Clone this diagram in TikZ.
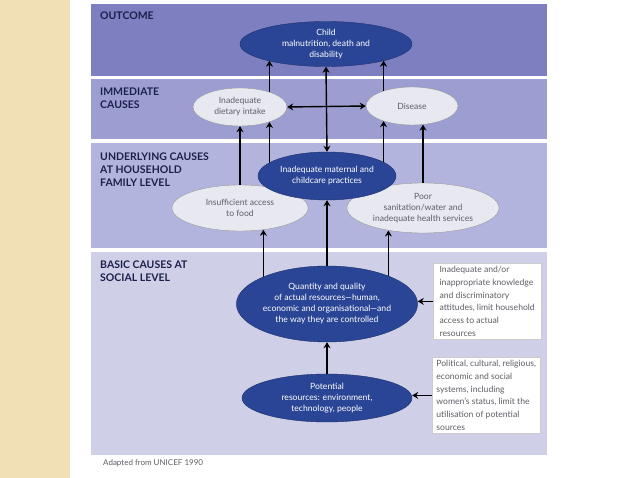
\documentclass[tikz,border=0pt]{standalone}
\usepackage{fontspec}
\setmainfont{Lato}
\usetikzlibrary{shapes.geometric,arrows.meta}
\pgfdeclarelayer{back}\pgfdeclarelayer{bg}\pgfsetlayers{back,bg,main}
\definecolor{beige}{HTML}{F1DFB6}
\definecolor{bandA}{HTML}{7E7FC0}
\definecolor{bandB}{HTML}{9C9ED2}
\definecolor{bandC}{HTML}{B3B4DD}
\definecolor{bandD}{HTML}{CFD0E7}
\definecolor{darkell}{HTML}{2B4596}
\definecolor{lightell}{HTML}{E8E8F0}
\definecolor{labcol}{HTML}{1C1F4A}
\definecolor{txtgray}{HTML}{5E5E66}
\tikzset{
 dark/.style={ellipse,fill=darkell,draw=darkell!70!black,text=white,inner sep=0pt,align=center,font=\fontsize{8.6}{11}\selectfont},
 light/.style={ellipse,fill=lightell,draw=gray!80,text=txtgray,inner sep=0pt,align=center,font=\fontsize{8.6}{11}\selectfont},
 lab/.style={anchor=north west,align=left,text=labcol,font=\bfseries\fontsize{10.5}{13}\selectfont,inner sep=0pt},
 sidebox/.style={fill=white,draw=gray!40,anchor=north west,align=left,text=txtgray,inner xsep=3pt,inner ysep=3pt,minimum width=108pt,font=\fontsize{8.6}{12.8}\selectfont},
 arr/.style={line width=1.4pt,-{Stealth[length=6pt,width=7pt]}},
 darr/.style={line width=1.4pt,{Stealth[length=6pt,width=7pt]}-{Stealth[length=6pt,width=7pt]}}
}
\begin{document}
\begin{tikzpicture}[x=1pt,y=-1pt]
\useasboundingbox (0,0) rectangle (638,478);
\begin{pgfonlayer}{back}
\fill[white] (0,0) rectangle (638,478);
\fill[beige] (0,0) rectangle (70,478);
\fill[bandA] (91,4) rectangle (547,76);
\fill[bandB] (91,79) rectangle (547,139);
\fill[bandC] (91,143) rectangle (547,248);
\fill[bandD] (91,252) rectangle (547,455);
\end{pgfonlayer}
\node[lab] (l1) at (100,12) {OUTCOME};
\node[lab] (l2) at (100,88) {IMMEDIATE\\CAUSES};
\node[lab] (l3) at (100,153) {UNDERLYING CAUSES\\AT HOUSEHOLD\\FAMILY LEVEL};
\node[lab] (l4) at (100,261) {BASIC CAUSES AT\\SOCIAL LEVEL};
\node[anchor=west,text=txtgray,font=\fontsize{8}{9}\selectfont,inner sep=0pt] (cap) at (103,463) {Adapted from UNICEF 1990};

\node[dark,minimum width=172pt,minimum height=45pt] (child) at (326,44) {Child\\malnutrition, death and\\disability};
\node[light,minimum width=94pt,minimum height=38pt] (diet) at (240,107) {Inadequate\\dietary intake};
\node[light,minimum width=92pt,minimum height=38pt] (dis) at (412,106) {Disease};
\node[light,minimum width=136pt,minimum height=46pt] (ins) at (240,208) {Insufficient access\\to food};
\node[light,minimum width=152pt,minimum height=50pt] (poor) at (423,208) {Poor\\sanitation/water and\\inadequate health services};
\node[dark,minimum width=138pt,minimum height=48pt] (mat) at (327,176) {Inadequate maternal and\\childcare practices};
\node[dark,minimum width=172pt,minimum height=76pt] (qty) at (327,304) {Quantity and quality\\of actual resources---human,\\economic and organisational---and\\the way they are controlled};
\node[dark,minimum width=170pt,minimum height=48pt] (pot) at (327,398) {Potential\\resources: environment,\\technology, people};
\node[sidebox] (b1) at (433,263) {Inadequate and/or\\inappropriate knowledge\\and discriminatory\\attitudes, limit household\\access to actual\\resources};
\node[sidebox] (b2) at (432,357) {Political, cultural, religious,\\economic and social\\systems, including\\women's status, limit the\\utilisation of potential\\sources};

\draw[arr] (diet.27) -- (diet.27 |- child.196);
\draw[arr] (dis.152) -- (dis.152 |- child.344);
\draw[darr] (child.south) -- (mat.north);
\draw[darr] (diet.east) -- (dis.west);
\draw[arr] (ins.north) -- (ins.north |- diet.south);
\draw[arr] (poor.north) -- (poor.north |- dis.301);
\begin{pgfonlayer}{bg}
\draw[arr] (mat.center -| diet.-27) -- (diet.-27);
\draw[arr] (mat.center -| dis.208) -- (dis.208);
\draw[arr] (qty.center -| ins.-43) -- (ins.-43);
\draw[arr] (qty.center -| poor.213) -- (poor.213);
\end{pgfonlayer}
\draw[arr] (qty.north) -- (mat.south);
\draw[arr] (pot.north) -- (qty.south);
\draw[arr] (b1.west) -- (b1.west -| qty.east);
\draw[arr] (b2.west) -- (b2.west -| pot.east);
\end{tikzpicture}
\end{document}
